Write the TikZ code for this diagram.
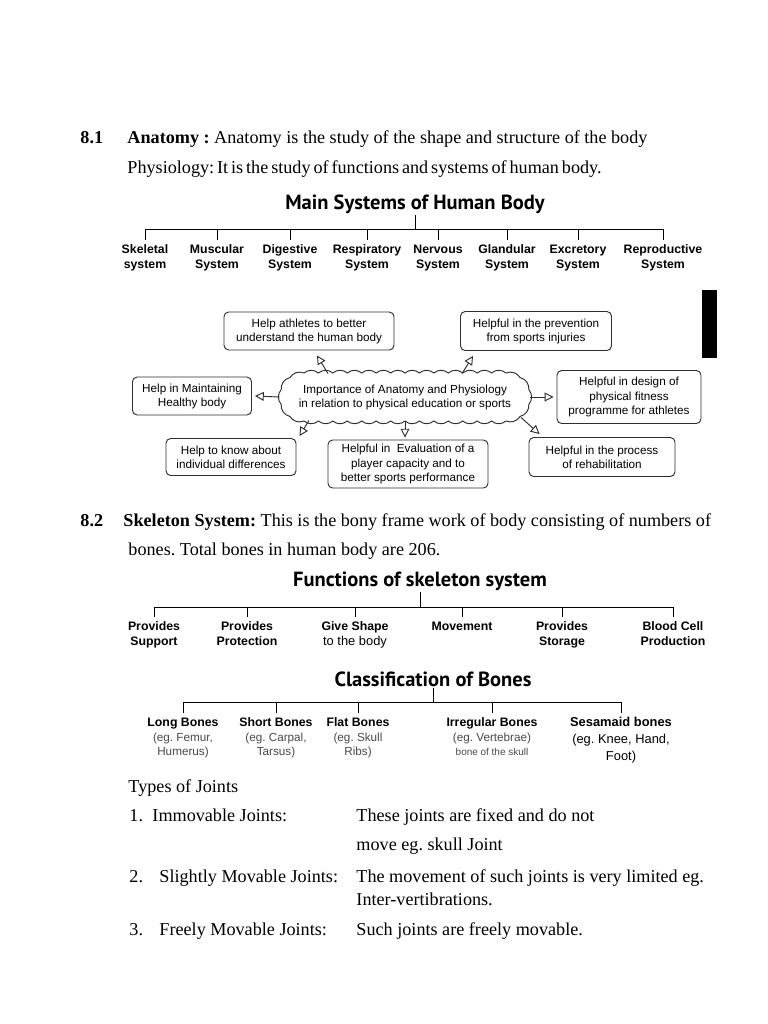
\documentclass[tikz,border=0pt]{standalone}
\usepackage{fontspec}
\setmainfont{Liberation Serif}
\setsansfont{Liberation Sans}
\newfontfamily\headfont{PT Sans}
\usetikzlibrary{arrows.meta, calc, positioning}
\definecolor{bkGrey}{HTML}{4A4A4A}
\definecolor{bkLine}{HTML}{2E2E2E}
\newcommand\eglbl[1]{{\mdseries\fontsize{10}{12}\selectfont\color{bkGrey}#1}}
\newcommand\lfr{\rule{0pt}{9pt}}
\frenchspacing
\tikzset{
  every picture/.append style = {line width=0.8pt},
  body/.style     = {anchor=base west, inner sep=0pt, font=\fontsize{15.5}{18}\selectfont},
  heading/.style  = {inner sep=1pt, font=\headfont\bfseries\fontsize{17.5}{20}\selectfont},
  leaf/.style     = {anchor=north, align=center, inner xsep=0pt, inner ysep=2.5pt,
                     font=\sffamily\bfseries\fontsize{10.5}{12}\selectfont},
  infobox/.style  = {draw=bkLine, rounded corners=4pt, align=center, inner sep=0pt,
                     font=\sffamily\fontsize{10}{12}\selectfont},
  tip/.style      = {-{Triangle[open, length=7.5pt, width=7.5pt]}, bkLine},
}

\begin{document}
\begin{tikzpicture}[x=0.03cm, y=-0.03cm,
    bump/.style={bend left=40}]
  \useasboundingbox[fill=white] (0,0) rectangle (768,1024);
  % section 8.1
  \node[body] (sec1) at (80,143) {\textbf{8.1}};
  \node[body] (anat) at (127,143) {\textbf{Anatomy :} Anatomy is the study of the shape and structure of the body};
  \node[body] (phys) at (127,173) {\spaceskip=0.16em Physiology: It is the study of functions and systems of human body.};

  % main systems tree
  \node[heading] (sysT) at (415,204) {Main Systems of Human Body};
  \coordinate (sysbar) at (0,229);
  \node[leaf] (skelS) at (145,240) {\lfr Skeletal\\system};
  \node[leaf] (muscS) at (217,240) {\lfr Muscular\\System};
  \node[leaf] (digeS) at (290,240) {\lfr Digestive\\System};
  \node[leaf] (respS) at (367,240) {\lfr Respiratory\\System};
  \node[leaf] (nervS) at (438,240) {\lfr Nervous\\System};
  \node[leaf] (glanS) at (507,240) {\lfr Glandular\\System};
  \node[leaf] (excrS) at (578,240) {\lfr Excretory\\System};
  \node[leaf] (reprS) at (663,240) {\lfr Reproductive\\System};
  \draw (sysT.south) -- (sysT.south |- sysbar);
  \draw (skelS.north |- sysbar) -- (reprS.north |- sysbar);
  \foreach \n in {skelS,muscS,digeS,respS,nervS,glanS,excrS,reprS}
    \draw (\n.north |- sysbar) -- (\n.north);

  % importance of anatomy and physiology
  \fill (702,290) rectangle (717,358);
  \node[align=center, inner sep=0pt, minimum width=7.5cm, minimum height=1.44cm,
        font=\sffamily\fontsize{10}{12}\selectfont] (cloud) at (405,397)
        {Importance of Anatomy and Physiology\\in relation to physical education or sports};
  % scalloped outline round the centre text
  \draw[bkLine] (304,373)
    foreach \i in {1,...,14} { to[bump] ++(14.43,0) }
    foreach \a in {-54,-18,18,54,90} { to[bump] ($(506,397)+(\a:24)$) }
    foreach \i in {1,...,14} { to[bump] ++(-14.43,0) }
    foreach \a in {126,162,198,234,270} { to[bump] ($(304,397)+(\a:24)$) };
  \node[infobox, minimum width=5.1cm, minimum height=1.14cm] (athl) at (309,331) {Help athletes to better\\understand the human body};
  \node[infobox, minimum width=4.53cm, minimum height=1.17cm] (prev) at (536,331) {Helpful in the prevention\\from sports injuries};
  \node[infobox, minimum width=3.57cm, minimum height=1.14cm] (heal) at (192,396) {Help in Maintaining\\Healthy body};
  \node[infobox, minimum width=4.32cm, minimum height=1.59cm] (fit) at (629,397) {Helpful in design of\\physical fitness\\programme for athletes};
  \node[infobox, minimum width=3.9cm, minimum height=1.11cm] (diff) at (231,457) {Help to know about\\individual differences};
  \node[infobox, minimum width=4.8cm, minimum height=1.44cm] (eval) at (408,464) {Helpful in\ \ Evaluation of a\\player capacity and to\\better sports performance};
  \node[infobox, minimum width=4.38cm, minimum height=1.17cm] (rehab) at (602,457) {Helpful in the process\\of rehabilitation};
  \draw[tip] ($(cloud.north)+(-77,1)$) -- ($(athl.south)+(8,5)$);
  \draw[tip] ($(cloud.north)+(57,1)$) -- ($(prev.south west)+(13,5)$);
  \draw[tip] (cloud.west) -- ($(heal.east)+(3,0)$);
  \draw[tip] (cloud.east) -- ($(fit.west)+(-3,0)$);
  \draw[tip] (cloud.south) -- ($(eval.north)+(-3,-2)$);
  \draw[tip] ($(cloud.south)+(-96,-1)$) -- ($(diff.north east)+(3,-2)$);
  \draw[tip] ($(cloud.south)+(116,-4)$) -- ($(rehab.north west)+(11,-3)$);

  % section 8.2
  \node[body] (sec2) at (80,526) {\textbf{8.2}};
  \node[body] (skel) at (123,526) {\textbf{Skeleton System:} This is the bony frame work of body consisting of numbers of};
  \node[body] (skel2) at (128,555) {bones. Total bones in human body are 206.};

  % functions tree
  \node[heading] (funT) at (420,581) {Functions of skeleton system};
  \coordinate (funbar) at (0,607);
  \node[leaf] (suppF) at (154,617) {\lfr Provides\\Support};
  \node[leaf] (protF) at (247,617) {\lfr Provides\\Protection};
  \node[leaf] (shapF) at (355,617) {\lfr Give Shape\\{\mdseries\fontsize{11}{12.5}\selectfont to the body}};
  \node[leaf] (moveF) at (462,617) {\lfr Movement};
  \node[leaf] (storF) at (562,617) {\lfr Provides\\Storage};
  \node[leaf] (bloodF) at (673,617) {\lfr Blood Cell\\Production};
  \draw (funT.south) -- (funT.south |- funbar);
  \draw (suppF.north |- funbar) -- (bloodF.north |- funbar);
  \foreach \n in {suppF,protF,shapF,moveF,storF,bloodF}
    \draw (\n.north |- funbar) -- (\n.north);

  % classification tree
  \node[heading] (clsT) at (433,679) {Classification of Bones};
  \coordinate (clsbar) at (0,702);
  \node[leaf] (longB) at (183,713) {\lfr Long Bones\\\eglbl{(eg. Femur,}\\\eglbl{Humerus)}};
  \node[leaf] (shortB) at (276,713) {\lfr Short Bones\\\eglbl{(eg. Carpal,}\\\eglbl{Tarsus)}};
  \node[leaf] (flatB) at (358,713) {\lfr Flat Bones\\\eglbl{(eg. Skull}\\\eglbl{Ribs)}};
  \node[leaf] (irrB) at (492,713) {\lfr Irregular Bones\\\eglbl{(eg. Vertebrae)}\\{\mdseries\fontsize{8.5}{12}\selectfont\color{bkGrey}bone of the skull}};
  \node[leaf, font=\sffamily\bfseries\fontsize{11}{14.5}\selectfont] (sesB) at (621,713) {\lfr Sesamaid\ bones\\{\mdseries (eg. Knee, Hand,}\\{\mdseries Foot)}};
  \draw (clsT.south) -- (clsT.south |- clsbar);
  \draw (longB.north |- clsbar) -- (sesB.north |- clsbar);
  \foreach \n in {longB,shortB,flatB,irrB,sesB}
    \draw (\n.north |- clsbar) -- (\n.north);

  % types of joints
  \node[body] (types) at (128,792) {Types of Joints};
  \node[body] (j1n) at (129,821) {1.};
  \node[body] (j1) at (152,821) {Immovable Joints:};
  \node[body] (j1a) at (356,821) {These joints are fixed and do not};
  \node[body] (j1b) at (356,850) {move eg. skull Joint};
  \node[body] (j2n) at (129,882) {2.};
  \node[body] (j2) at (159,882) {Slightly Movable Joints:};
  \node[body] (j2a) at (356,882) {The movement of such joints is very limited eg.};
  \node[body] (j2b) at (356,905) {Inter-vertibrations.};
  \node[body] (j3n) at (129,935) {3.};
  \node[body] (j3) at (159,935) {Freely Movable Joints:};
  \node[body] (j3a) at (356,935) {Such joints are freely movable.};
\end{tikzpicture}
\end{document}
